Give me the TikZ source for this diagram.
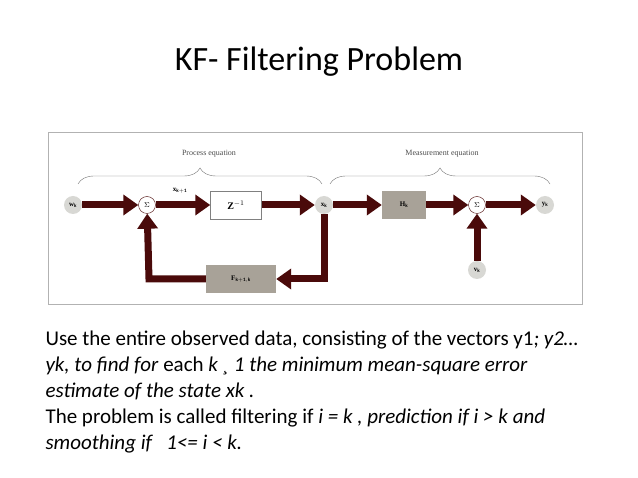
\documentclass[tikz,border=0pt]{standalone}
\usepackage{fontspec}
\setmainfont{Carlito}
\newfontfamily\dg{Liberation Serif}
\usetikzlibrary{arrows.meta,decorations.pathreplacing}
\definecolor{mar}{HTML}{4A0A0A}
\definecolor{gbox}{HTML}{A8A298}
\definecolor{gcir}{HTML}{D8D8D4}
\begin{document}
\begin{tikzpicture}[x=1pt,y=-1pt,
 ar/.style={draw=mar,line width=7pt,-{Triangle[length=15pt,width=20pt]}},
 term/.style={circle,fill=gcir,minimum size=18pt,inner sep=0pt,font=\dg\bfseries\scriptsize},
 sum/.style={circle,draw=mar,fill=white,minimum size=17pt,inner sep=0pt,font=\dg\scriptsize},
 gb/.style={fill=gbox,minimum width=44pt,minimum height=28pt,font=\dg\bfseries\scriptsize},
 lbl/.style={font=\dg\footnotesize,text=black!70}]
\useasboundingbox (0,0) rectangle (638,478);
\node (title) at (319,62) {\fontsize{34}{40}\selectfont KF- Filtering Problem};
\draw[black!30,line width=1pt] (48,133) rectangle (582,305);
\node[term] (w) at (73,205) {w$_{\mathbf k}$};
\node[sum] (s1) at (147,205) {$\Sigma$};
\node[draw=black!50,fill=white,minimum width=51pt,minimum height=28pt,font=\dg\bfseries] (z) at (236,205) {Z$^{-1}$};
\node[term] (xk) at (324,205) {x$_{\mathbf k}$};
\node[gb] (h) at (404,205) {H$_{\mathbf k}$};
\node[sum] (s2) at (477,205) {$\Sigma$};
\node[term] (yk) at (545,205) {y$_{\mathbf k}$};
\node[term] (vk) at (477,270) {v$_{\mathbf k}$};
\node[gb,minimum width=70pt] (f) at (241,279) {F$_{\mathbf{k+1,k}}$};
\node[font=\dg\bfseries\scriptsize] (xk1) at (180,191) {x$_{\mathbf{k+1}}$};
\draw[ar] (w) -- (s1);
\draw[ar] (s1) -- (z);
\draw[ar] (z) -- (xk);
\draw[ar] (xk) -- (h);
\draw[ar] (h) -- (s2);
\draw[ar] (s2) -- (yk);
\draw[ar] (vk) -- (s2);
\coordinate (c1) at (324,279);
\coordinate (c2) at (149,279);
\draw[ar] (xk.south) -- (c1) -- (f);
\draw[ar] (f) -- (c2) -- (s1);
\draw[black!55,decorate,decoration={brace,amplitude=16pt}] (78,184) -- (322,184);
\draw[black!55,decorate,decoration={brace,amplitude=16pt}] (330,184) -- (550,184);
\node[lbl] (pe) at (209,154) {Process equation};
\node[lbl] (me) at (442,154) {Measurement equation};
\node[anchor=west,align=left,font=\fontsize{21}{26}\selectfont] (txt) at (42,392) {Use the entire observed data, consisting of the vectors y1\textit{; y2…}\\
\textit{yk, to find for} each \textit{k ¸ 1 the minimum mean-square error}\\
\textit{estimate of the state xk .}\\
The problem is called filtering if \textit{i = k , prediction if i > k and}\\
\textit{smoothing if~~~1<= i < k.}};
\end{tikzpicture}
\end{document}
